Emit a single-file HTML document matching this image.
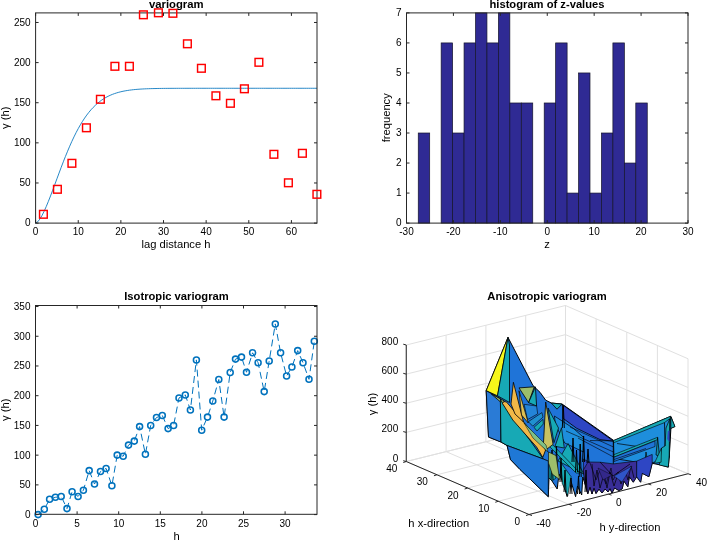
<!DOCTYPE html>
<html><head><meta charset="utf-8"><title>variogram</title>
<style>html,body{margin:0;padding:0;background:#fff}svg{display:block}text{font-family:"Liberation Sans",Arial,Helvetica,sans-serif}</style>
</head><body>
<svg width="707" height="540" viewBox="0 0 707 540">
<rect width="707" height="540" fill="#fff"/>
<polyline fill="none" stroke="#0072BD" stroke-width="0.85" points="35.60,223.10 37.73,221.76 39.86,219.07 42.00,215.50 44.13,211.26 46.26,206.50 48.39,201.36 50.52,195.93 52.65,190.31 54.79,184.58 56.92,178.81 59.05,173.07 61.18,167.39 63.31,161.83 65.45,156.43 67.58,151.22 69.71,146.21 71.84,141.43 73.97,136.90 76.10,132.62 78.24,128.60 80.37,124.83 82.50,121.33 84.63,118.07 86.76,115.07 88.90,112.30 91.03,109.76 93.16,107.44 95.29,105.33 97.42,103.41 99.55,101.67 101.69,100.10 103.82,98.70 105.95,97.43 108.08,96.30 110.21,95.30 112.35,94.40 114.48,93.61 116.61,92.91 118.74,92.29 120.87,91.75 123.00,91.28 125.14,90.86 127.27,90.50 129.40,90.18 131.53,89.91 133.66,89.67 135.80,89.46 137.93,89.29 140.06,89.13 142.19,89.00 144.32,88.89 146.45,88.79 148.59,88.71 150.72,88.64 152.85,88.59 154.98,88.54 157.11,88.49 159.25,88.46 161.38,88.43 163.51,88.40 165.64,88.38 167.77,88.36 169.90,88.35 172.04,88.34 174.17,88.33 176.30,88.32 178.43,88.31 180.56,88.31 182.70,88.30 184.83,88.30 186.96,88.29 189.09,88.29 191.22,88.29 193.35,88.29 195.49,88.29 197.62,88.28 199.75,88.28 201.88,88.28 204.01,88.28 206.15,88.28 208.28,88.28 210.41,88.28 212.54,88.28 214.67,88.28 216.80,88.28 218.94,88.28 221.07,88.28 223.20,88.28 225.33,88.28 227.46,88.28 229.60,88.28 231.73,88.28 233.86,88.28 235.99,88.28 238.12,88.28 240.25,88.28 242.39,88.28 244.52,88.28 246.65,88.28 248.78,88.28 250.91,88.28 253.05,88.28 255.18,88.28 257.31,88.28 259.44,88.28 261.57,88.28 263.70,88.28 265.84,88.28 267.97,88.28 270.10,88.28 272.23,88.28 274.36,88.28 276.50,88.28 278.63,88.28 280.76,88.28 282.89,88.28 285.02,88.28 287.15,88.28 289.29,88.28 291.42,88.28 293.55,88.28 295.68,88.28 297.81,88.28 299.95,88.28 302.08,88.28 304.21,88.28 306.34,88.28 308.47,88.28 310.60,88.28 312.74,88.28 314.87,88.28 317.00,88.28"/>
<rect x="35.6" y="12.9" width="281.4" height="210.2" fill="none" stroke="#262626" stroke-width="1"/>
<line x1="35.6" y1="223.1" x2="35.6" y2="220.1" stroke="#262626" stroke-width="1" />
<line x1="35.6" y1="12.9" x2="35.6" y2="15.9" stroke="#262626" stroke-width="1" />
<text x="35.6" y="235.29999999999998" font-size="10" text-anchor="middle" fill="#000">0</text>
<line x1="78.23636363636363" y1="223.1" x2="78.23636363636363" y2="220.1" stroke="#262626" stroke-width="1" />
<line x1="78.23636363636363" y1="12.9" x2="78.23636363636363" y2="15.9" stroke="#262626" stroke-width="1" />
<text x="78.24" y="235.29999999999998" font-size="10" text-anchor="middle" fill="#000">10</text>
<line x1="120.87272727272727" y1="223.1" x2="120.87272727272727" y2="220.1" stroke="#262626" stroke-width="1" />
<line x1="120.87272727272727" y1="12.9" x2="120.87272727272727" y2="15.9" stroke="#262626" stroke-width="1" />
<text x="120.87" y="235.29999999999998" font-size="10" text-anchor="middle" fill="#000">20</text>
<line x1="163.5090909090909" y1="223.1" x2="163.5090909090909" y2="220.1" stroke="#262626" stroke-width="1" />
<line x1="163.5090909090909" y1="12.9" x2="163.5090909090909" y2="15.9" stroke="#262626" stroke-width="1" />
<text x="163.51" y="235.29999999999998" font-size="10" text-anchor="middle" fill="#000">30</text>
<line x1="206.14545454545453" y1="223.1" x2="206.14545454545453" y2="220.1" stroke="#262626" stroke-width="1" />
<line x1="206.14545454545453" y1="12.9" x2="206.14545454545453" y2="15.9" stroke="#262626" stroke-width="1" />
<text x="206.15" y="235.29999999999998" font-size="10" text-anchor="middle" fill="#000">40</text>
<line x1="248.78181818181815" y1="223.1" x2="248.78181818181815" y2="220.1" stroke="#262626" stroke-width="1" />
<line x1="248.78181818181815" y1="12.9" x2="248.78181818181815" y2="15.9" stroke="#262626" stroke-width="1" />
<text x="248.78" y="235.29999999999998" font-size="10" text-anchor="middle" fill="#000">50</text>
<line x1="291.41818181818184" y1="223.1" x2="291.41818181818184" y2="220.1" stroke="#262626" stroke-width="1" />
<line x1="291.41818181818184" y1="12.9" x2="291.41818181818184" y2="15.9" stroke="#262626" stroke-width="1" />
<text x="291.42" y="235.29999999999998" font-size="10" text-anchor="middle" fill="#000">60</text>
<line x1="35.6" y1="223.1" x2="38.6" y2="223.1" stroke="#262626" stroke-width="1" />
<line x1="317" y1="223.1" x2="314" y2="223.1" stroke="#262626" stroke-width="1" />
<text x="30.6" y="226.3" font-size="10" text-anchor="end" fill="#000">0</text>
<line x1="35.6" y1="182.975" x2="38.6" y2="182.975" stroke="#262626" stroke-width="1" />
<line x1="317" y1="182.975" x2="314" y2="182.975" stroke="#262626" stroke-width="1" />
<text x="30.6" y="186.17" font-size="10" text-anchor="end" fill="#000">50</text>
<line x1="35.6" y1="142.85" x2="38.6" y2="142.85" stroke="#262626" stroke-width="1" />
<line x1="317" y1="142.85" x2="314" y2="142.85" stroke="#262626" stroke-width="1" />
<text x="30.6" y="146.05" font-size="10" text-anchor="end" fill="#000">100</text>
<line x1="35.6" y1="102.725" x2="38.6" y2="102.725" stroke="#262626" stroke-width="1" />
<line x1="317" y1="102.725" x2="314" y2="102.725" stroke="#262626" stroke-width="1" />
<text x="30.6" y="105.92" font-size="10" text-anchor="end" fill="#000">150</text>
<line x1="35.6" y1="62.599999999999994" x2="38.6" y2="62.599999999999994" stroke="#262626" stroke-width="1" />
<line x1="317" y1="62.599999999999994" x2="314" y2="62.599999999999994" stroke="#262626" stroke-width="1" />
<text x="30.6" y="65.8" font-size="10" text-anchor="end" fill="#000">200</text>
<line x1="35.6" y1="22.474999999999994" x2="38.6" y2="22.474999999999994" stroke="#262626" stroke-width="1" />
<line x1="317" y1="22.474999999999994" x2="314" y2="22.474999999999994" stroke="#262626" stroke-width="1" />
<text x="30.6" y="25.67" font-size="10" text-anchor="end" fill="#000">250</text>
<rect x="39.55" y="210.45" width="7.7" height="7.7" fill="none" stroke="#FF0000" stroke-width="1.45"/>
<rect x="53.55" y="185.45" width="7.7" height="7.7" fill="none" stroke="#FF0000" stroke-width="1.45"/>
<rect x="68.05" y="159.45" width="7.7" height="7.7" fill="none" stroke="#FF0000" stroke-width="1.45"/>
<rect x="82.55" y="123.95" width="7.7" height="7.7" fill="none" stroke="#FF0000" stroke-width="1.45"/>
<rect x="96.55" y="95.45" width="7.7" height="7.7" fill="none" stroke="#FF0000" stroke-width="1.45"/>
<rect x="111.05" y="62.45" width="7.7" height="7.7" fill="none" stroke="#FF0000" stroke-width="1.45"/>
<rect x="125.55" y="62.45" width="7.7" height="7.7" fill="none" stroke="#FF0000" stroke-width="1.45"/>
<rect x="139.55" y="10.95" width="7.7" height="7.7" fill="none" stroke="#FF0000" stroke-width="1.45"/>
<rect x="154.55" y="8.95" width="7.7" height="7.7" fill="none" stroke="#FF0000" stroke-width="1.45"/>
<rect x="169.05" y="9.45" width="7.7" height="7.7" fill="none" stroke="#FF0000" stroke-width="1.45"/>
<rect x="183.55" y="39.95" width="7.7" height="7.7" fill="none" stroke="#FF0000" stroke-width="1.45"/>
<rect x="197.55" y="64.45" width="7.7" height="7.7" fill="none" stroke="#FF0000" stroke-width="1.45"/>
<rect x="212.05" y="91.95" width="7.7" height="7.7" fill="none" stroke="#FF0000" stroke-width="1.45"/>
<rect x="226.55" y="99.45" width="7.7" height="7.7" fill="none" stroke="#FF0000" stroke-width="1.45"/>
<rect x="240.55" y="84.95" width="7.7" height="7.7" fill="none" stroke="#FF0000" stroke-width="1.45"/>
<rect x="255.05" y="58.45" width="7.7" height="7.7" fill="none" stroke="#FF0000" stroke-width="1.45"/>
<rect x="270.05" y="150.45" width="7.7" height="7.7" fill="none" stroke="#FF0000" stroke-width="1.45"/>
<rect x="284.55" y="178.95" width="7.7" height="7.7" fill="none" stroke="#FF0000" stroke-width="1.45"/>
<rect x="298.55" y="149.45" width="7.7" height="7.7" fill="none" stroke="#FF0000" stroke-width="1.45"/>
<rect x="313.05" y="190.45" width="7.7" height="7.7" fill="none" stroke="#FF0000" stroke-width="1.45"/>
<text x="176.3" y="8.3" font-size="11.3" text-anchor="middle" fill="#000" font-weight="bold">variogram</text>
<text x="176" y="247.7" font-size="11.2" text-anchor="middle" fill="#000">lag distance h</text>
<text x="8.8" y="117.75" font-size="11.2" text-anchor="middle" fill="#000" transform="rotate(-90 8.8 117.75)">γ (h)</text>
<rect x="418.25" y="133.01" width="11.45" height="90.09" fill="#2F2A94" stroke="#15152a" stroke-width="0.7"/>
<rect x="441.15" y="42.93" width="11.45" height="180.17" fill="#2F2A94" stroke="#15152a" stroke-width="0.7"/>
<rect x="452.60" y="133.01" width="11.45" height="90.09" fill="#2F2A94" stroke="#15152a" stroke-width="0.7"/>
<rect x="464.05" y="42.93" width="11.45" height="180.17" fill="#2F2A94" stroke="#15152a" stroke-width="0.7"/>
<rect x="475.50" y="12.90" width="11.45" height="210.20" fill="#2F2A94" stroke="#15152a" stroke-width="0.7"/>
<rect x="486.95" y="42.93" width="11.45" height="180.17" fill="#2F2A94" stroke="#15152a" stroke-width="0.7"/>
<rect x="498.40" y="12.90" width="11.45" height="210.20" fill="#2F2A94" stroke="#15152a" stroke-width="0.7"/>
<rect x="509.85" y="102.99" width="11.45" height="120.11" fill="#2F2A94" stroke="#15152a" stroke-width="0.7"/>
<rect x="521.30" y="102.99" width="11.45" height="120.11" fill="#2F2A94" stroke="#15152a" stroke-width="0.7"/>
<rect x="544.20" y="102.99" width="11.45" height="120.11" fill="#2F2A94" stroke="#15152a" stroke-width="0.7"/>
<rect x="555.65" y="42.93" width="11.45" height="180.17" fill="#2F2A94" stroke="#15152a" stroke-width="0.7"/>
<rect x="567.10" y="193.07" width="11.45" height="30.03" fill="#2F2A94" stroke="#15152a" stroke-width="0.7"/>
<rect x="578.55" y="72.96" width="11.45" height="150.14" fill="#2F2A94" stroke="#15152a" stroke-width="0.7"/>
<rect x="590.00" y="193.07" width="11.45" height="30.03" fill="#2F2A94" stroke="#15152a" stroke-width="0.7"/>
<rect x="601.45" y="133.01" width="11.45" height="90.09" fill="#2F2A94" stroke="#15152a" stroke-width="0.7"/>
<rect x="612.90" y="42.93" width="11.45" height="180.17" fill="#2F2A94" stroke="#15152a" stroke-width="0.7"/>
<rect x="624.35" y="163.04" width="11.45" height="60.06" fill="#2F2A94" stroke="#15152a" stroke-width="0.7"/>
<rect x="635.80" y="102.99" width="11.45" height="120.11" fill="#2F2A94" stroke="#15152a" stroke-width="0.7"/>
<rect x="406.5" y="12.9" width="281.5" height="210.2" fill="none" stroke="#262626" stroke-width="1"/>
<line x1="406.5" y1="223.1" x2="406.5" y2="220.1" stroke="#262626" stroke-width="1" />
<line x1="406.5" y1="12.9" x2="406.5" y2="15.9" stroke="#262626" stroke-width="1" />
<text x="406.5" y="235.29999999999998" font-size="10" text-anchor="middle" fill="#000">-30</text>
<line x1="453.4166666666667" y1="223.1" x2="453.4166666666667" y2="220.1" stroke="#262626" stroke-width="1" />
<line x1="453.4166666666667" y1="12.9" x2="453.4166666666667" y2="15.9" stroke="#262626" stroke-width="1" />
<text x="453.42" y="235.29999999999998" font-size="10" text-anchor="middle" fill="#000">-20</text>
<line x1="500.3333333333333" y1="223.1" x2="500.3333333333333" y2="220.1" stroke="#262626" stroke-width="1" />
<line x1="500.3333333333333" y1="12.9" x2="500.3333333333333" y2="15.9" stroke="#262626" stroke-width="1" />
<text x="500.33" y="235.29999999999998" font-size="10" text-anchor="middle" fill="#000">-10</text>
<line x1="547.25" y1="223.1" x2="547.25" y2="220.1" stroke="#262626" stroke-width="1" />
<line x1="547.25" y1="12.9" x2="547.25" y2="15.9" stroke="#262626" stroke-width="1" />
<text x="547.25" y="235.29999999999998" font-size="10" text-anchor="middle" fill="#000">0</text>
<line x1="594.1666666666666" y1="223.1" x2="594.1666666666666" y2="220.1" stroke="#262626" stroke-width="1" />
<line x1="594.1666666666666" y1="12.9" x2="594.1666666666666" y2="15.9" stroke="#262626" stroke-width="1" />
<text x="594.17" y="235.29999999999998" font-size="10" text-anchor="middle" fill="#000">10</text>
<line x1="641.0833333333334" y1="223.1" x2="641.0833333333334" y2="220.1" stroke="#262626" stroke-width="1" />
<line x1="641.0833333333334" y1="12.9" x2="641.0833333333334" y2="15.9" stroke="#262626" stroke-width="1" />
<text x="641.08" y="235.29999999999998" font-size="10" text-anchor="middle" fill="#000">20</text>
<line x1="688.0" y1="223.1" x2="688.0" y2="220.1" stroke="#262626" stroke-width="1" />
<line x1="688.0" y1="12.9" x2="688.0" y2="15.9" stroke="#262626" stroke-width="1" />
<text x="688.0" y="235.29999999999998" font-size="10" text-anchor="middle" fill="#000">30</text>
<line x1="406.5" y1="223.1" x2="409.5" y2="223.1" stroke="#262626" stroke-width="1" />
<line x1="688" y1="223.1" x2="685" y2="223.1" stroke="#262626" stroke-width="1" />
<text x="401.5" y="226.3" font-size="10" text-anchor="end" fill="#000">0</text>
<line x1="406.5" y1="193.07142857142856" x2="409.5" y2="193.07142857142856" stroke="#262626" stroke-width="1" />
<line x1="688" y1="193.07142857142856" x2="685" y2="193.07142857142856" stroke="#262626" stroke-width="1" />
<text x="401.5" y="196.27" font-size="10" text-anchor="end" fill="#000">1</text>
<line x1="406.5" y1="163.04285714285714" x2="409.5" y2="163.04285714285714" stroke="#262626" stroke-width="1" />
<line x1="688" y1="163.04285714285714" x2="685" y2="163.04285714285714" stroke="#262626" stroke-width="1" />
<text x="401.5" y="166.24" font-size="10" text-anchor="end" fill="#000">2</text>
<line x1="406.5" y1="133.01428571428573" x2="409.5" y2="133.01428571428573" stroke="#262626" stroke-width="1" />
<line x1="688" y1="133.01428571428573" x2="685" y2="133.01428571428573" stroke="#262626" stroke-width="1" />
<text x="401.5" y="136.21" font-size="10" text-anchor="end" fill="#000">3</text>
<line x1="406.5" y1="102.98571428571428" x2="409.5" y2="102.98571428571428" stroke="#262626" stroke-width="1" />
<line x1="688" y1="102.98571428571428" x2="685" y2="102.98571428571428" stroke="#262626" stroke-width="1" />
<text x="401.5" y="106.19" font-size="10" text-anchor="end" fill="#000">4</text>
<line x1="406.5" y1="72.95714285714286" x2="409.5" y2="72.95714285714286" stroke="#262626" stroke-width="1" />
<line x1="688" y1="72.95714285714286" x2="685" y2="72.95714285714286" stroke="#262626" stroke-width="1" />
<text x="401.5" y="76.16" font-size="10" text-anchor="end" fill="#000">5</text>
<line x1="406.5" y1="42.928571428571445" x2="409.5" y2="42.928571428571445" stroke="#262626" stroke-width="1" />
<line x1="688" y1="42.928571428571445" x2="685" y2="42.928571428571445" stroke="#262626" stroke-width="1" />
<text x="401.5" y="46.13" font-size="10" text-anchor="end" fill="#000">6</text>
<line x1="406.5" y1="12.900000000000006" x2="409.5" y2="12.900000000000006" stroke="#262626" stroke-width="1" />
<line x1="688" y1="12.900000000000006" x2="685" y2="12.900000000000006" stroke="#262626" stroke-width="1" />
<text x="401.5" y="16.1" font-size="10" text-anchor="end" fill="#000">7</text>
<text x="547" y="8.3" font-size="11.2" text-anchor="middle" fill="#000" font-weight="bold">histogram of z-values</text>
<text x="547" y="247.7" font-size="11.2" text-anchor="middle" fill="#000">z</text>
<text x="390" y="117.75" font-size="11.2" text-anchor="middle" fill="#000" transform="rotate(-90 390 117.75)">frequency</text>
<polyline fill="none" stroke="#0072BD" stroke-width="1" stroke-dasharray="7 4" points="38.10,514.60 44.30,509.30 49.60,499.30 55.40,497.30 61.20,496.40 67.00,508.60 72.10,491.70 78.10,496.40 83.40,490.20 89.20,470.60 94.50,484.00 100.50,471.50 106.10,468.40 111.90,485.70 117.20,455.10 123.20,456.20 128.50,445.10 134.30,441.10 139.60,426.60 145.40,454.20 150.70,425.50 156.50,417.50 162.30,415.50 168.10,428.60 173.60,425.50 179.00,397.90 185.30,394.90 190.40,410.00 196.40,359.90 201.70,430.20 207.50,417.10 212.80,401.00 218.80,379.50 224.10,417.10 230.20,372.50 235.50,359.10 241.50,357.10 246.50,372.20 252.60,352.80 258.10,362.70 264.20,391.60 269.20,360.90 275.30,323.90 280.60,352.80 286.60,376.00 291.90,367.00 297.70,350.60 303.00,362.70 309.00,379.30 314.30,341.30"/>
<circle cx="38.10" cy="514.60" r="3" fill="none" stroke="#0072BD" stroke-width="1.55"/>
<circle cx="44.30" cy="509.30" r="3" fill="none" stroke="#0072BD" stroke-width="1.55"/>
<circle cx="49.60" cy="499.30" r="3" fill="none" stroke="#0072BD" stroke-width="1.55"/>
<circle cx="55.40" cy="497.30" r="3" fill="none" stroke="#0072BD" stroke-width="1.55"/>
<circle cx="61.20" cy="496.40" r="3" fill="none" stroke="#0072BD" stroke-width="1.55"/>
<circle cx="67.00" cy="508.60" r="3" fill="none" stroke="#0072BD" stroke-width="1.55"/>
<circle cx="72.10" cy="491.70" r="3" fill="none" stroke="#0072BD" stroke-width="1.55"/>
<circle cx="78.10" cy="496.40" r="3" fill="none" stroke="#0072BD" stroke-width="1.55"/>
<circle cx="83.40" cy="490.20" r="3" fill="none" stroke="#0072BD" stroke-width="1.55"/>
<circle cx="89.20" cy="470.60" r="3" fill="none" stroke="#0072BD" stroke-width="1.55"/>
<circle cx="94.50" cy="484.00" r="3" fill="none" stroke="#0072BD" stroke-width="1.55"/>
<circle cx="100.50" cy="471.50" r="3" fill="none" stroke="#0072BD" stroke-width="1.55"/>
<circle cx="106.10" cy="468.40" r="3" fill="none" stroke="#0072BD" stroke-width="1.55"/>
<circle cx="111.90" cy="485.70" r="3" fill="none" stroke="#0072BD" stroke-width="1.55"/>
<circle cx="117.20" cy="455.10" r="3" fill="none" stroke="#0072BD" stroke-width="1.55"/>
<circle cx="123.20" cy="456.20" r="3" fill="none" stroke="#0072BD" stroke-width="1.55"/>
<circle cx="128.50" cy="445.10" r="3" fill="none" stroke="#0072BD" stroke-width="1.55"/>
<circle cx="134.30" cy="441.10" r="3" fill="none" stroke="#0072BD" stroke-width="1.55"/>
<circle cx="139.60" cy="426.60" r="3" fill="none" stroke="#0072BD" stroke-width="1.55"/>
<circle cx="145.40" cy="454.20" r="3" fill="none" stroke="#0072BD" stroke-width="1.55"/>
<circle cx="150.70" cy="425.50" r="3" fill="none" stroke="#0072BD" stroke-width="1.55"/>
<circle cx="156.50" cy="417.50" r="3" fill="none" stroke="#0072BD" stroke-width="1.55"/>
<circle cx="162.30" cy="415.50" r="3" fill="none" stroke="#0072BD" stroke-width="1.55"/>
<circle cx="168.10" cy="428.60" r="3" fill="none" stroke="#0072BD" stroke-width="1.55"/>
<circle cx="173.60" cy="425.50" r="3" fill="none" stroke="#0072BD" stroke-width="1.55"/>
<circle cx="179.00" cy="397.90" r="3" fill="none" stroke="#0072BD" stroke-width="1.55"/>
<circle cx="185.30" cy="394.90" r="3" fill="none" stroke="#0072BD" stroke-width="1.55"/>
<circle cx="190.40" cy="410.00" r="3" fill="none" stroke="#0072BD" stroke-width="1.55"/>
<circle cx="196.40" cy="359.90" r="3" fill="none" stroke="#0072BD" stroke-width="1.55"/>
<circle cx="201.70" cy="430.20" r="3" fill="none" stroke="#0072BD" stroke-width="1.55"/>
<circle cx="207.50" cy="417.10" r="3" fill="none" stroke="#0072BD" stroke-width="1.55"/>
<circle cx="212.80" cy="401.00" r="3" fill="none" stroke="#0072BD" stroke-width="1.55"/>
<circle cx="218.80" cy="379.50" r="3" fill="none" stroke="#0072BD" stroke-width="1.55"/>
<circle cx="224.10" cy="417.10" r="3" fill="none" stroke="#0072BD" stroke-width="1.55"/>
<circle cx="230.20" cy="372.50" r="3" fill="none" stroke="#0072BD" stroke-width="1.55"/>
<circle cx="235.50" cy="359.10" r="3" fill="none" stroke="#0072BD" stroke-width="1.55"/>
<circle cx="241.50" cy="357.10" r="3" fill="none" stroke="#0072BD" stroke-width="1.55"/>
<circle cx="246.50" cy="372.20" r="3" fill="none" stroke="#0072BD" stroke-width="1.55"/>
<circle cx="252.60" cy="352.80" r="3" fill="none" stroke="#0072BD" stroke-width="1.55"/>
<circle cx="258.10" cy="362.70" r="3" fill="none" stroke="#0072BD" stroke-width="1.55"/>
<circle cx="264.20" cy="391.60" r="3" fill="none" stroke="#0072BD" stroke-width="1.55"/>
<circle cx="269.20" cy="360.90" r="3" fill="none" stroke="#0072BD" stroke-width="1.55"/>
<circle cx="275.30" cy="323.90" r="3" fill="none" stroke="#0072BD" stroke-width="1.55"/>
<circle cx="280.60" cy="352.80" r="3" fill="none" stroke="#0072BD" stroke-width="1.55"/>
<circle cx="286.60" cy="376.00" r="3" fill="none" stroke="#0072BD" stroke-width="1.55"/>
<circle cx="291.90" cy="367.00" r="3" fill="none" stroke="#0072BD" stroke-width="1.55"/>
<circle cx="297.70" cy="350.60" r="3" fill="none" stroke="#0072BD" stroke-width="1.55"/>
<circle cx="303.00" cy="362.70" r="3" fill="none" stroke="#0072BD" stroke-width="1.55"/>
<circle cx="309.00" cy="379.30" r="3" fill="none" stroke="#0072BD" stroke-width="1.55"/>
<circle cx="314.30" cy="341.30" r="3" fill="none" stroke="#0072BD" stroke-width="1.55"/>
<rect x="35.5" y="305.5" width="281.5" height="208.79999999999995" fill="none" stroke="#262626" stroke-width="1"/>
<line x1="35.5" y1="514.3" x2="35.5" y2="511.29999999999995" stroke="#262626" stroke-width="1" />
<line x1="35.5" y1="305.5" x2="35.5" y2="308.5" stroke="#262626" stroke-width="1" />
<text x="35.5" y="526.6999999999999" font-size="10" text-anchor="middle" fill="#000">0</text>
<line x1="77.1" y1="514.3" x2="77.1" y2="511.29999999999995" stroke="#262626" stroke-width="1" />
<line x1="77.1" y1="305.5" x2="77.1" y2="308.5" stroke="#262626" stroke-width="1" />
<text x="77.1" y="526.6999999999999" font-size="10" text-anchor="middle" fill="#000">5</text>
<line x1="118.7" y1="514.3" x2="118.7" y2="511.29999999999995" stroke="#262626" stroke-width="1" />
<line x1="118.7" y1="305.5" x2="118.7" y2="308.5" stroke="#262626" stroke-width="1" />
<text x="118.7" y="526.6999999999999" font-size="10" text-anchor="middle" fill="#000">10</text>
<line x1="160.3" y1="514.3" x2="160.3" y2="511.29999999999995" stroke="#262626" stroke-width="1" />
<line x1="160.3" y1="305.5" x2="160.3" y2="308.5" stroke="#262626" stroke-width="1" />
<text x="160.3" y="526.6999999999999" font-size="10" text-anchor="middle" fill="#000">15</text>
<line x1="201.9" y1="514.3" x2="201.9" y2="511.29999999999995" stroke="#262626" stroke-width="1" />
<line x1="201.9" y1="305.5" x2="201.9" y2="308.5" stroke="#262626" stroke-width="1" />
<text x="201.9" y="526.6999999999999" font-size="10" text-anchor="middle" fill="#000">20</text>
<line x1="243.5" y1="514.3" x2="243.5" y2="511.29999999999995" stroke="#262626" stroke-width="1" />
<line x1="243.5" y1="305.5" x2="243.5" y2="308.5" stroke="#262626" stroke-width="1" />
<text x="243.5" y="526.6999999999999" font-size="10" text-anchor="middle" fill="#000">25</text>
<line x1="285.1" y1="514.3" x2="285.1" y2="511.29999999999995" stroke="#262626" stroke-width="1" />
<line x1="285.1" y1="305.5" x2="285.1" y2="308.5" stroke="#262626" stroke-width="1" />
<text x="285.1" y="526.6999999999999" font-size="10" text-anchor="middle" fill="#000">30</text>
<line x1="35.5" y1="514.5999999999999" x2="38.5" y2="514.5999999999999" stroke="#262626" stroke-width="1" />
<line x1="317" y1="514.5999999999999" x2="314" y2="514.5999999999999" stroke="#262626" stroke-width="1" />
<text x="30.5" y="518.0" font-size="10" text-anchor="end" fill="#000">0</text>
<line x1="35.5" y1="484.8749999999999" x2="38.5" y2="484.8749999999999" stroke="#262626" stroke-width="1" />
<line x1="317" y1="484.8749999999999" x2="314" y2="484.8749999999999" stroke="#262626" stroke-width="1" />
<text x="30.5" y="488.27" font-size="10" text-anchor="end" fill="#000">50</text>
<line x1="35.5" y1="455.1499999999999" x2="38.5" y2="455.1499999999999" stroke="#262626" stroke-width="1" />
<line x1="317" y1="455.1499999999999" x2="314" y2="455.1499999999999" stroke="#262626" stroke-width="1" />
<text x="30.5" y="458.55" font-size="10" text-anchor="end" fill="#000">100</text>
<line x1="35.5" y1="425.4249999999999" x2="38.5" y2="425.4249999999999" stroke="#262626" stroke-width="1" />
<line x1="317" y1="425.4249999999999" x2="314" y2="425.4249999999999" stroke="#262626" stroke-width="1" />
<text x="30.5" y="428.82" font-size="10" text-anchor="end" fill="#000">150</text>
<line x1="35.5" y1="395.69999999999993" x2="38.5" y2="395.69999999999993" stroke="#262626" stroke-width="1" />
<line x1="317" y1="395.69999999999993" x2="314" y2="395.69999999999993" stroke="#262626" stroke-width="1" />
<text x="30.5" y="399.1" font-size="10" text-anchor="end" fill="#000">200</text>
<line x1="35.5" y1="365.9749999999999" x2="38.5" y2="365.9749999999999" stroke="#262626" stroke-width="1" />
<line x1="317" y1="365.9749999999999" x2="314" y2="365.9749999999999" stroke="#262626" stroke-width="1" />
<text x="30.5" y="369.37" font-size="10" text-anchor="end" fill="#000">250</text>
<line x1="35.5" y1="336.2499999999999" x2="38.5" y2="336.2499999999999" stroke="#262626" stroke-width="1" />
<line x1="317" y1="336.2499999999999" x2="314" y2="336.2499999999999" stroke="#262626" stroke-width="1" />
<text x="30.5" y="339.65" font-size="10" text-anchor="end" fill="#000">300</text>
<line x1="35.5" y1="306.52499999999986" x2="38.5" y2="306.52499999999986" stroke="#262626" stroke-width="1" />
<line x1="317" y1="306.52499999999986" x2="314" y2="306.52499999999986" stroke="#262626" stroke-width="1" />
<text x="30.5" y="309.92" font-size="10" text-anchor="end" fill="#000">350</text>
<text x="176.5" y="300.2" font-size="11.2" text-anchor="middle" fill="#000" font-weight="bold">Isotropic variogram</text>
<text x="176.5" y="539.6" font-size="11.2" text-anchor="middle" fill="#000">h</text>
<text x="8.8" y="409.75" font-size="11.2" text-anchor="middle" fill="#000" transform="rotate(-90 8.8 409.75)">γ (h)</text>
<!--3D-->
<line x1="406.25" y1="461.5" x2="565.5" y2="422.0" stroke="#e0e0e0" stroke-width="1" />
<line x1="565.5" y1="422.0" x2="688" y2="473.75" stroke="#e0e0e0" stroke-width="1" />
<line x1="406.25" y1="432.375" x2="565.5" y2="392.875" stroke="#e0e0e0" stroke-width="1" />
<line x1="565.5" y1="392.875" x2="688.0" y2="445.0" stroke="#e0e0e0" stroke-width="1" />
<line x1="406.25" y1="403.25" x2="565.5" y2="363.75" stroke="#e0e0e0" stroke-width="1" />
<line x1="565.5" y1="363.75" x2="688.0" y2="416.25" stroke="#e0e0e0" stroke-width="1" />
<line x1="406.25" y1="374.125" x2="565.5" y2="334.625" stroke="#e0e0e0" stroke-width="1" />
<line x1="565.5" y1="334.625" x2="688.0" y2="387.5" stroke="#e0e0e0" stroke-width="1" />
<line x1="406.25" y1="345.0" x2="565.5" y2="305.5" stroke="#e0e0e0" stroke-width="1" />
<line x1="565.5" y1="305.5" x2="688.0" y2="358.75" stroke="#e0e0e0" stroke-width="1" />
<line x1="406.25" y1="461.5" x2="406.25" y2="345.0" stroke="#e0e0e0" stroke-width="1" />
<line x1="406.25" y1="461.5" x2="529" y2="514.5" stroke="#e0e0e0" stroke-width="1" />
<line x1="565.5" y1="422.0" x2="565.5" y2="305.5" stroke="#e0e0e0" stroke-width="1" />
<line x1="565.5" y1="422.0" x2="406.25" y2="461.5" stroke="#e0e0e0" stroke-width="1" />
<line x1="446.0625" y1="451.625" x2="446.0625" y2="335.125" stroke="#e0e0e0" stroke-width="1" />
<line x1="446.0625" y1="451.625" x2="568.75" y2="504.3125" stroke="#e0e0e0" stroke-width="1" />
<line x1="596.125" y1="434.9375" x2="596.125" y2="318.8125" stroke="#e0e0e0" stroke-width="1" />
<line x1="596.125" y1="434.9375" x2="436.9375" y2="474.75" stroke="#e0e0e0" stroke-width="1" />
<line x1="485.875" y1="441.75" x2="485.875" y2="325.25" stroke="#e0e0e0" stroke-width="1" />
<line x1="485.875" y1="441.75" x2="608.5" y2="494.125" stroke="#e0e0e0" stroke-width="1" />
<line x1="626.75" y1="447.875" x2="626.75" y2="332.125" stroke="#e0e0e0" stroke-width="1" />
<line x1="626.75" y1="447.875" x2="467.625" y2="488.0" stroke="#e0e0e0" stroke-width="1" />
<line x1="525.6875" y1="431.875" x2="525.6875" y2="315.375" stroke="#e0e0e0" stroke-width="1" />
<line x1="525.6875" y1="431.875" x2="648.25" y2="483.9375" stroke="#e0e0e0" stroke-width="1" />
<line x1="657.375" y1="460.8125" x2="657.375" y2="345.4375" stroke="#e0e0e0" stroke-width="1" />
<line x1="657.375" y1="460.8125" x2="498.3125" y2="501.25" stroke="#e0e0e0" stroke-width="1" />
<line x1="565.5" y1="422.0" x2="565.5" y2="305.5" stroke="#e0e0e0" stroke-width="1" />
<line x1="565.5" y1="422.0" x2="688.0" y2="473.75" stroke="#e0e0e0" stroke-width="1" />
<line x1="688.0" y1="473.75" x2="688.0" y2="358.75" stroke="#e0e0e0" stroke-width="1" />
<line x1="688.0" y1="473.75" x2="529.0" y2="514.5" stroke="#e0e0e0" stroke-width="1" />
<line x1="406.25" y1="461.5" x2="406.25" y2="345" stroke="#262626" stroke-width="1" />
<line x1="406.25" y1="461.5" x2="529" y2="514.5" stroke="#262626" stroke-width="1" />
<line x1="529" y1="514.5" x2="688" y2="473.75" stroke="#262626" stroke-width="1" />
<line x1="406.25" y1="461.5" x2="403.25" y2="460.7" stroke="#262626" stroke-width="1" />
<text x="398.25" y="461.5" font-size="10" text-anchor="end" fill="#000">0</text>
<line x1="406.25" y1="432.375" x2="403.25" y2="431.575" stroke="#262626" stroke-width="1" />
<text x="398.25" y="432.38" font-size="10" text-anchor="end" fill="#000">200</text>
<line x1="406.25" y1="403.25" x2="403.25" y2="402.45" stroke="#262626" stroke-width="1" />
<text x="398.25" y="403.25" font-size="10" text-anchor="end" fill="#000">400</text>
<line x1="406.25" y1="374.125" x2="403.25" y2="373.325" stroke="#262626" stroke-width="1" />
<text x="398.25" y="374.12" font-size="10" text-anchor="end" fill="#000">600</text>
<line x1="406.25" y1="345.0" x2="403.25" y2="344.2" stroke="#262626" stroke-width="1" />
<text x="398.25" y="345.0" font-size="10" text-anchor="end" fill="#000">800</text>
<line x1="406.25" y1="461.5" x2="403.25" y2="462.5" stroke="#262626" stroke-width="1" />
<text x="397.25" y="472.1" font-size="10" text-anchor="end" fill="#000">40</text>
<line x1="436.9375" y1="474.75" x2="433.9375" y2="475.75" stroke="#262626" stroke-width="1" />
<text x="427.94" y="485.35" font-size="10" text-anchor="end" fill="#000">30</text>
<line x1="467.625" y1="488.0" x2="464.625" y2="489.0" stroke="#262626" stroke-width="1" />
<text x="458.62" y="498.6" font-size="10" text-anchor="end" fill="#000">20</text>
<line x1="498.3125" y1="501.25" x2="495.3125" y2="502.25" stroke="#262626" stroke-width="1" />
<text x="489.31" y="511.85" font-size="10" text-anchor="end" fill="#000">10</text>
<line x1="529.0" y1="514.5" x2="526.0" y2="515.5" stroke="#262626" stroke-width="1" />
<text x="520.0" y="525.1" font-size="10" text-anchor="end" fill="#000">0</text>
<line x1="529.0" y1="514.5" x2="532.0" y2="515.5" stroke="#262626" stroke-width="1" />
<text x="543.5" y="527.0" font-size="10" text-anchor="middle" fill="#000">-40</text>
<line x1="568.75" y1="504.3125" x2="571.75" y2="505.3125" stroke="#262626" stroke-width="1" />
<text x="584.1" y="516.35" font-size="10" text-anchor="middle" fill="#000">-20</text>
<line x1="608.5" y1="494.125" x2="611.5" y2="495.125" stroke="#262626" stroke-width="1" />
<text x="618.75" y="506.1" font-size="10" text-anchor="middle" fill="#000">0</text>
<line x1="648.25" y1="483.9375" x2="651.25" y2="484.9375" stroke="#262626" stroke-width="1" />
<text x="661.6" y="496.1" font-size="10" text-anchor="middle" fill="#000">20</text>
<line x1="688.0" y1="473.75" x2="691.0" y2="474.75" stroke="#262626" stroke-width="1" />
<text x="701.5" y="486.1" font-size="10" text-anchor="middle" fill="#000">40</text>
<text x="547" y="300.2" font-size="11.2" text-anchor="middle" fill="#000" font-weight="bold">Anisotropic variogram</text>
<text x="438.8" y="527" font-size="11.2" text-anchor="middle" fill="#000">h x-direction</text>
<text x="630" y="530.6" font-size="11.2" text-anchor="middle" fill="#000">h y-direction</text>
<text x="376" y="404" font-size="11.2" text-anchor="middle" fill="#000" transform="rotate(-90 376 404)">γ (h)</text>
<polygon points="508.0,337.4 533.0,385.6 540.0,392.3 545.7,400.2 551.3,403.0 562.1,404.1 614.3,440.9 670.9,416.4 674.9,426.6 670.9,428.3 669.2,457.7 668.3,467.2 660.6,465.0 652.2,463.3 648.9,476.7 642.2,473.3 640.6,482.2 636.7,476.7 633.3,482.2 629.4,476.7 627.8,486.7 623.9,481.0 622.2,488.9 618.9,490.5 614.5,488.0 612.0,493.0 610.0,488.5 608.0,492.0 605.0,489.0 602.0,493.0 599.0,489.0 596.0,493.5 594.0,488.0 592.0,494.0 590.0,487.0 587.8,493.8 585.0,484.0 582.8,477.0 581.7,495.0 577.5,486.0 575.6,496.7 570.0,478.0 568.5,476.0 567.2,496.7 562.0,480.0 559.0,474.0 557.2,489.0 552.0,481.0 549.0,478.0 548.3,496.7 520.0,469.4 510.5,459.6 507.1,445.5 501.0,442.0 488.5,437.0 486.2,390.7" fill="#1F74D8" stroke="#000" stroke-width="1" stroke-linejoin="round"/>
<polygon points="554.4,416.0 573.3,428.3 583.3,437.2 583.5,452.0 564.8,443.0 555.6,425.0" fill="#1E8EDC" stroke="#000" stroke-width="0.7" stroke-linejoin="round"/>
<polygon points="562.4,404.7 613.8,441.3 600.0,439.6 576.7,428.3 563.0,418.3" fill="#2E46C4" stroke="#000" stroke-width="0.8" stroke-linejoin="round"/>
<polygon points="551.3,403.0 562.1,404.1 557.0,409.2" fill="#17A9B5" stroke="#000" stroke-width="0.8" stroke-linejoin="round"/>
<polyline points="566.0,431.0 613.5,452.0" fill="none" stroke="#000" stroke-width="0.6" stroke-linejoin="round"/>
<polyline points="570.0,427.0 613.5,447.0" fill="none" stroke="#000" stroke-width="0.6" stroke-linejoin="round"/>
<polyline points="578.0,438.0 613.5,457.0" fill="none" stroke="#000" stroke-width="0.6" stroke-linejoin="round"/>
<polyline points="590.0,440.5 613.5,440.9" fill="none" stroke="#000" stroke-width="0.6" stroke-linejoin="round"/>
<polygon points="613.5,440.6 670.6,416.3 669.2,457.7 652.8,462.6 636.0,462.0 614.0,458.5" fill="#1E8EDC" stroke="#000" stroke-width="0.8" stroke-linejoin="round"/>
<polygon points="613.5,440.6 670.6,416.3 670.3,418.2 664.5,422.6 613.5,442.8" fill="#17A9B5" stroke="#000" stroke-width="0.6" stroke-linejoin="round"/>
<polyline points="617.0,443.5 636.0,446.3" fill="none" stroke="#000" stroke-width="0.7" stroke-linejoin="round"/>
<polygon points="614.0,454.6 657.6,437.3 657.6,439.6 614.0,457.2" fill="#17A9B5" stroke="#000" stroke-width="0.6" stroke-linejoin="round"/>
<polygon points="614.0,457.2 655.0,441.0 655.0,446.5 614.0,461.5" fill="#1F74D8" stroke="#000" stroke-width="0.6" stroke-linejoin="round"/>
<polyline points="614.0,459.5 646.0,448.5" fill="none" stroke="#000" stroke-width="0.6" stroke-linejoin="round"/>
<polygon points="657.6,437.5 656.0,455.0 659.5,456.0" fill="#1590A8" stroke="#000" stroke-width="0.7" stroke-linejoin="round"/>
<polygon points="646.0,452.0 645.0,461.0 647.5,461.0" fill="#17A9B5" stroke="#000" stroke-width="0.7" stroke-linejoin="round"/>
<polygon points="666.0,428.0 669.7,419.0 669.2,455.0 668.3,467.0 659.3,465.0 661.5,448.0 665.0,446.0" fill="#17A9B5" stroke="#000" stroke-width="0.7" stroke-linejoin="round"/>
<polygon points="670.9,417.0 674.9,426.6 670.9,428.3" fill="#17A9B5" stroke="#000" stroke-width="0.6" stroke-linejoin="round"/>
<polyline points="664.5,422.6 665.0,446.0" fill="none" stroke="#000" stroke-width="0.8" stroke-linejoin="round"/>
<polygon points="667.8,431.0 669.5,430.5 669.4,442.3 667.2,439.0" fill="#2E46C4" stroke="none" stroke-width="0.8" stroke-linejoin="round"/>
<polygon points="659.6,452.0 661.5,448.0 661.1,462.2 654.4,463.3" fill="#17A9B5" stroke="#000" stroke-width="0.6" stroke-linejoin="round"/>
<polygon points="583.5,459.0 591.4,463.5 591.0,476.0 585.0,480.0 583.3,472.0" fill="#2E46C4" stroke="#000" stroke-width="0.6" stroke-linejoin="round"/>
<polygon points="583.3,470.0 588.0,462.0 600.0,462.2 613.3,463.9 636.7,461.1 636.7,476.7 633.3,482.2 629.4,476.7 627.8,486.7 623.9,481.0 622.2,488.9 618.9,490.5 614.5,488.0 612.0,493.0 610.0,488.5 608.0,492.0 605.0,489.0 602.0,493.0 599.0,489.0 596.0,493.5 594.0,488.0 592.0,494.0 590.0,487.0 587.8,493.8 585.0,484.0" fill="#392E98" stroke="#000" stroke-width="0.6" stroke-linejoin="round"/>
<polygon points="636.7,461.1 652.2,454.4 652.2,463.3 648.9,476.7 642.2,473.3 640.6,482.2 636.7,476.7" fill="#2E46C4" stroke="#000" stroke-width="0.6" stroke-linejoin="round"/>
<polyline points="590.0,463.0 596.0,480.0 600.0,470.0 606.0,484.0 611.0,468.0 613.0,480.0 618.0,472.0 624.0,478.0" fill="none" stroke="#000" stroke-width="0.6" stroke-linejoin="round"/>
<polyline points="613.3,441.0 613.3,463.9" fill="none" stroke="#000" stroke-width="0.9" stroke-linejoin="round"/>
<polyline points="600.0,462.0 613.0,476.0 630.0,464.0" fill="none" stroke="#000" stroke-width="0.7" stroke-linejoin="round"/>
<polyline points="592.0,464.0 594.0,486.0 597.0,470.0 600.0,488.0 604.0,474.0 607.0,488.0 610.0,472.0 614.0,486.0 618.0,474.0 621.0,484.0 625.0,470.0 628.0,480.0 631.0,466.0 634.0,478.0" fill="none" stroke="#000" stroke-width="0.7" stroke-linejoin="round"/>
<polygon points="598.0,468.0 612.0,475.0 603.0,480.0" fill="#33288A" stroke="#000" stroke-width="0.4" stroke-linejoin="round"/>
<polygon points="614.0,476.0 632.0,466.0 622.0,482.0" fill="#2F55C8" stroke="#000" stroke-width="0.4" stroke-linejoin="round"/>
<polygon points="508.0,337.4 486.2,390.7 497.5,395.8" fill="#F7F71A" stroke="#000" stroke-width="0.8" stroke-linejoin="round"/>
<polygon points="508.0,337.4 497.5,395.8 509.5,402.5 509.5,345.0" fill="#17A9B5" stroke="#000" stroke-width="0.8" stroke-linejoin="round"/>
<polygon points="519.0,387.9 534.3,386.8 528.6,402.6" fill="#9DBE6A" stroke="#000" stroke-width="0.8" stroke-linejoin="round"/>
<polygon points="535.4,386.8 528.6,402.6 536.6,406.0" fill="#17A9B5" stroke="#000" stroke-width="0.8" stroke-linejoin="round"/>
<polygon points="524.1,404.3 536.6,406.0 537.7,413.9 527.5,419.6" fill="#2484D8" stroke="#000" stroke-width="0.6" stroke-linejoin="round"/>
<polygon points="486.2,390.7 500.4,398.7 500.9,442.0 488.5,437.0" fill="#2A7BD6" stroke="#000" stroke-width="0.8" stroke-linejoin="round"/>
<polygon points="491.3,394.0 504.3,400.9 503.2,404.3" fill="#9DBE6A" stroke="#000" stroke-width="0.8" stroke-linejoin="round"/>
<polygon points="500.4,399.2 503.2,404.3 529.8,440.0 543.3,459.0 507.1,445.5 501.0,442.0" fill="#17A9B5" stroke="#000" stroke-width="0.8" stroke-linejoin="round"/>
<polygon points="507.1,445.5 543.3,459.0 548.3,461.0 548.3,496.6 520.0,469.4 510.5,459.6" fill="#1F78D6" stroke="#000" stroke-width="0.8" stroke-linejoin="round"/>
<polygon points="528.3,421.7 541.9,412.6 543.0,417.1 532.8,426.2" fill="#2090D0" stroke="#000" stroke-width="0.6" stroke-linejoin="round"/>
<polygon points="534.0,427.3 543.0,419.4 543.3,424.0 537.0,431.0" fill="#17A9B5" stroke="#000" stroke-width="0.6" stroke-linejoin="round"/>
<polygon points="548.0,408.0 554.0,442.6 558.5,428.0" fill="#17A9B5" stroke="#000" stroke-width="0.7" stroke-linejoin="round"/>
<polygon points="561.5,427.8 555.0,446.3 564.3,448.0" fill="#17A9B5" stroke="#000" stroke-width="0.7" stroke-linejoin="round"/>
<polygon points="568.0,443.5 583.7,474.0 558.0,461.0" fill="#17A9B5" stroke="#000" stroke-width="0.7" stroke-linejoin="round"/>
<polygon points="546.0,443.0 551.0,443.0 580.0,473.0 576.0,473.0" fill="#17A9B5" stroke="#000" stroke-width="0.6" stroke-linejoin="round"/>
<polygon points="560.6,462.2 571.1,476.7 567.8,495.6 562.2,483.3" fill="#17A9B5" stroke="#000" stroke-width="0.6" stroke-linejoin="round"/>
<polygon points="549.0,462.0 556.0,478.0 552.0,481.0 549.0,478.0" fill="#17A9B5" stroke="#000" stroke-width="0.6" stroke-linejoin="round"/>
<polyline points="562.3,428.0 563.3,405.5 564.3,428.0" fill="none" stroke="#000" stroke-width="1.0" stroke-linejoin="round"/>
<polyline points="579.2,477.0 580.2,444.0 581.2,477.0" fill="none" stroke="#000" stroke-width="1.0" stroke-linejoin="round"/>
<polyline points="582.6,462.0 583.6,436.0 584.6,462.0" fill="none" stroke="#000" stroke-width="1.0" stroke-linejoin="round"/>
<polyline points="572.0,462.0 573.0,438.0 574.0,462.0" fill="none" stroke="#000" stroke-width="1.0" stroke-linejoin="round"/>
<polyline points="575.5,472.0 576.5,450.0 577.5,472.0" fill="none" stroke="#000" stroke-width="1.0" stroke-linejoin="round"/>
<polyline points="587.0,463.0 588.0,449.0 589.0,463.0" fill="none" stroke="#000" stroke-width="1.0" stroke-linejoin="round"/>
<polyline points="555.5,472.0 556.5,446.0 557.5,472.0" fill="none" stroke="#000" stroke-width="1.0" stroke-linejoin="round"/>
<polyline points="551.0,480.0 552.0,450.0 553.0,480.0" fill="none" stroke="#000" stroke-width="1.0" stroke-linejoin="round"/>
<polyline points="560.0,482.0 561.0,458.0 562.0,482.0" fill="none" stroke="#000" stroke-width="1.0" stroke-linejoin="round"/>
<polyline points="564.0,492.0 565.0,470.0 566.0,492.0" fill="none" stroke="#000" stroke-width="1.0" stroke-linejoin="round"/>
<polyline points="570.0,494.0 571.0,478.0 572.0,494.0" fill="none" stroke="#000" stroke-width="1.0" stroke-linejoin="round"/>
<polyline points="577.5,494.0 578.5,476.0 579.5,494.0" fill="none" stroke="#000" stroke-width="1.0" stroke-linejoin="round"/>
<polyline points="585.0,492.0 586.0,470.0 587.0,492.0" fill="none" stroke="#000" stroke-width="1.0" stroke-linejoin="round"/>
<polygon points="545.7,402.0 543.0,452.0 553.1,444.4" fill="#C9C261" stroke="#000" stroke-width="0.8" stroke-linejoin="round"/>
<polygon points="548.5,452.0 556.0,455.6 559.6,479.6 552.2,474.0 548.5,463.0" fill="#9DBE6A" stroke="#000" stroke-width="0.6" stroke-linejoin="round"/>
<polygon points="503.8,401.5 506.5,402.0 533.2,433.2 545.6,450.0 542.8,457.3 536.6,447.1 512.8,420.0 502.5,403.5" fill="#F0B848" stroke="#000" stroke-width="0.8" stroke-linejoin="round"/>
<polygon points="513.4,382.3 511.0,404.0 515.0,414.0 523.5,421.9" fill="#F0B848" stroke="#000" stroke-width="0.8" stroke-linejoin="round"/>
<polygon points="519.0,390.7 521.5,415.0 528.3,423.0" fill="#DDBE52" stroke="#000" stroke-width="0.7" stroke-linejoin="round"/>
<polygon points="524.0,423.0 546.0,445.0 548.0,452.0 533.0,438.0" fill="#7FBF86" stroke="#000" stroke-width="0.5" stroke-linejoin="round"/>
</svg>
</body></html>
